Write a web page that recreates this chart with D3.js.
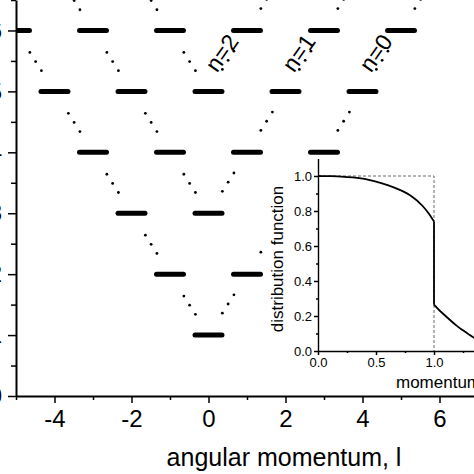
<!DOCTYPE html>
<html>
<head>
<meta charset="utf-8">
<script src="https://cdn.jsdelivr.net/npm/d3@7"></script>
<style>
body { margin: 0; background: #fff; }
svg { display: block; font-family: "Liberation Sans", Arial, sans-serif; }
</style>
</head>
<body>
<div id="chart"></div>
<script>
// oscillator levels, E = 2n + |l| + 1
const levels = [1, 2, 3, 4, 5, 6, 7];
// radial numbers whose states are joined by dots
const branches = [0, 1, 2];
const branchLabels = ["n=0", "n=1", "n=2"];
const lTicks = [-4, -2, 0, 2, 4, 6];
const lMinor = [-5, -3, -1, 1, 3, 5, 7];
const eTicks = [0, 1, 2, 3, 4, 5, 6];
const eMinor = [0.5, 1.5, 2.5, 3.5, 4.5, 5.5, 6.5];

// inset: distribution function vs momentum
const kInner = [0, 0.1, 0.2, 0.3, 0.4, 0.5, 0.6, 0.7, 0.8, 0.9, 0.95, 1.0];
const fInner = [1.0, 0.999, 0.997, 0.992, 0.983, 0.968, 0.948, 0.922, 0.887, 0.83, 0.79, 0.74];
const kOuter = [1.0, 1.05, 1.1, 1.15, 1.2, 1.25, 1.3, 1.35, 1.4, 1.5];
const fOuter = [0.265, 0.23, 0.2, 0.17, 0.142, 0.118, 0.095, 0.074, 0.058, 0.035];
const kStep = [0, 1, 1];
const fStep = [1, 1, 0];
const kTicks = [0, 0.5, 1.0, 1.5];
const kMinor = [0.25, 0.75, 1.25];
const fTicks = [0, 0.2, 0.4, 0.6, 0.8, 1.0];
const fMinor = [0.1, 0.3, 0.5, 0.7, 0.9];

const width = 474, height = 474;
const dotSteps = [0.36, 0.51, 0.66];

const svg = d3.select("#chart").append("svg")
    .attr("width", width)
    .attr("height", height);

const x = d3.scaleLinear().domain([-5, 7]).range([16, 478]);
const y = d3.scaleLinear().domain([0, 6.5]).range([396, 0]);

svg.append("clipPath").attr("id", "plotclip")
    .append("rect")
    .attr("x", 16).attr("y", -60)
    .attr("width", 470).attr("height", 456);

const plot = svg.append("g").attr("clip-path", "url(#plotclip)");

// states
let states = [];
levels.forEach(E => {
    for (let l = -(E - 1); l <= E - 1; l += 2) states.push({l: l, E: E});
});

// dotted connections along each branch
let dots = [];
branches.forEach(n => {
    const L = d3.max(levels) - 1 - 2 * n;
    for (let l = -L; l < L; l++) {
        const a = {l: l, E: 2 * n + Math.abs(l) + 1};
        const b = {l: l + 1, E: 2 * n + Math.abs(l + 1) + 1};
        dotSteps.forEach(t => {
            dots.push({l: a.l + (b.l - a.l) * t, E: a.E + (b.E - a.E) * t});
        });
    }
});

plot.append("g").selectAll("circle")
    .data(dots)
    .enter().append("circle")
    .attr("cx", d => x(d.l))
    .attr("cy", d => y(d.E))
    .attr("r", 1.4)
    .attr("fill", "#000");

plot.append("g").selectAll("line")
    .data(states)
    .enter().append("line")
    .attr("x1", d => x(d.l - 0.35))
    .attr("x2", d => x(d.l + 0.35))
    .attr("y1", d => y(d.E))
    .attr("y2", d => y(d.E))
    .attr("stroke", "#000")
    .attr("stroke-width", 5)
    .attr("stroke-linecap", "round");

// main axes
function styleAxis(g, size, lw) {
    g.selectAll("path").attr("stroke", "#000").attr("stroke-width", lw);
    g.selectAll("line").attr("stroke", "#000").attr("stroke-width", 1.5);
    g.selectAll("text").attr("fill", "#000").style("font-size", size);
}

const plain = d => String(d);

svg.append("g")
    .attr("transform", "translate(0,396)")
    .call(d3.axisBottom(x).tickValues(lMinor).tickSize(4).tickFormat("").tickSizeOuter(0))
    .call(g => g.select(".domain").remove())
    .call(g => styleAxis(g, "24px", 2));
svg.append("g")
    .attr("transform", "translate(0,396)")
    .call(d3.axisBottom(x).tickValues(lTicks).tickSize(7).tickPadding(7).tickFormat(plain).tickSizeOuter(0))
    .call(g => styleAxis(g, "24px", 2));

svg.append("g")
    .attr("transform", "translate(16,0)")
    .call(d3.axisLeft(y).tickValues(eMinor).tickSize(5).tickFormat("").tickSizeOuter(0))
    .call(g => g.select(".domain").remove())
    .call(g => styleAxis(g, "24px", 2));
svg.append("g")
    .attr("transform", "translate(16,0)")
    .call(d3.axisLeft(y).tickValues(eTicks).tickSize(8).tickPadding(6).tickFormat(plain).tickSizeOuter(0))
    .call(g => styleAxis(g, "24px", 2));

svg.append("text")
    .attr("x", 284).attr("y", 466)
    .attr("text-anchor", "middle")
    .style("font-size", "25px")
    .text("angular momentum, l");

// branch labels next to the right-hand dotted lines
svg.append("g").selectAll("text")
    .data(branches)
    .enter().append("text")
    .attr("transform", n => "translate(" + (x(4.5 - 2 * n) - 6) + "," + (y(5.5) - 8) + ") rotate(-55)")
    .attr("text-anchor", "middle")
    .attr("dominant-baseline", "central")
    .style("font-size", "23px")
    .text((n, i) => branchLabels[i]);

// inset
const inset = svg.append("g");
inset.append("rect")
    .attr("x", 264).attr("y", 156)
    .attr("width", 220).attr("height", 236)
    .attr("fill", "#fff");

const ix = d3.scaleLinear().domain([0, 1.5]).range([318, 492]);
const iy = d3.scaleLinear().domain([0, 1.1]).range([351, 158.5]);

inset.append("path")
    .datum(kStep.map((k, i) => [k, fStep[i]]))
    .attr("d", d3.line().x(d => ix(d[0])).y(d => iy(d[1])))
    .attr("fill", "none")
    .attr("stroke", "#666")
    .attr("stroke-width", 1)
    .attr("stroke-dasharray", "3,2");

const curve = d3.line().x(d => ix(d[0])).y(d => iy(d[1])).curve(d3.curveMonotoneX);
const inner = kInner.map((k, i) => [k, fInner[i]]);
const outer = kOuter.map((k, i) => [k, fOuter[i]]);

[inner, outer].forEach(seg => {
    inset.append("path")
        .datum(seg)
        .attr("d", curve)
        .attr("fill", "none")
        .attr("stroke", "#000")
        .attr("stroke-width", 1.8);
});
inset.append("path")
    .datum([inner[inner.length - 1], outer[0]])
    .attr("d", d3.line().x(d => ix(d[0])).y(d => iy(d[1])))
    .attr("stroke", "#000")
    .attr("stroke-width", 1.8);

inset.append("g")
    .attr("transform", "translate(0,351)")
    .call(d3.axisBottom(ix).tickValues(kMinor).tickSize(2).tickFormat("").tickSizeOuter(0))
    .call(g => g.select(".domain").remove())
    .call(g => styleAxis(g, "13px", 1.4));
inset.append("g")
    .attr("transform", "translate(0,351)")
    .call(d3.axisBottom(ix).tickValues(kTicks).tickSize(4).tickPadding(3).tickFormat(d3.format(".1f")).tickSizeOuter(0))
    .call(g => styleAxis(g, "13px", 1.4));

inset.append("g")
    .attr("transform", "translate(318,0)")
    .call(d3.axisLeft(iy).tickValues(fMinor).tickSize(2).tickFormat("").tickSizeOuter(0))
    .call(g => g.select(".domain").remove())
    .call(g => styleAxis(g, "13px", 1.4));
inset.append("g")
    .attr("transform", "translate(318,0)")
    .call(d3.axisLeft(iy).tickValues(fTicks).tickSize(4).tickPadding(2).tickFormat(d3.format(".1f")).tickSizeOuter(0))
    .call(g => styleAxis(g, "13px", 1.4));

inset.append("text")
    .attr("transform", "translate(283,259) rotate(-90)")
    .attr("text-anchor", "middle")
    .style("font-size", "17px")
    .text("distribution function");

inset.append("text")
    .attr("x", 396).attr("y", 388)
    .style("font-size", "17px")
    .text("momentum, k");
</script>
</body>
</html>
